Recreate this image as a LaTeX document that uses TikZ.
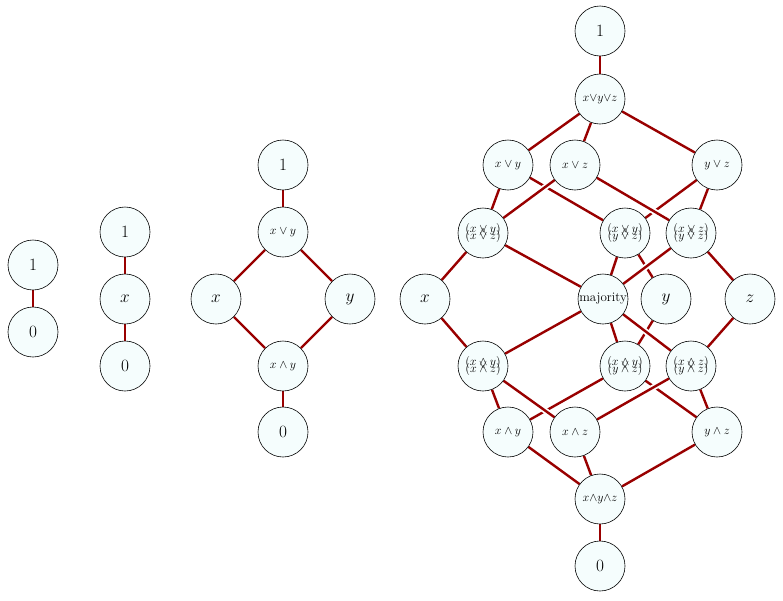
\documentclass[tikz,border=0pt]{standalone}
\usepackage{amsmath}
\usetikzlibrary{backgrounds}
\definecolor{nodefill}{HTML}{F5FDFD}
\definecolor{edgered}{HTML}{990000}
\tikzset{
  v/.style={circle, draw, line width=0.6pt, fill=nodefill, minimum size=50pt, inner sep=0pt, font=\fontsize{17}{20}\selectfont},
  vs/.style={v, font=\fontsize{13}{15}\selectfont},
  vt/.style={v, font=\fontsize{12.5}{13}\selectfont, align=center},
  e/.style={draw=edgered, line width=2.4pt, preaction={draw=white, line width=6pt}}
}
\newcommand{\twol}[3]{$#1$\\[-10pt]$#2$\\[-9pt]$#3$}
\begin{document}
\begin{tikzpicture}[x=1pt,y=-1pt]
  \useasboundingbox (0,0) rectangle (783,600);

  % chain of two
  \node[v] (a1) at (33,265) {$1$};
  \node[v] (a0) at (33,332) {$0$};

  % chain of three
  \node[v] (b1) at (125,232) {$1$};
  \node[v] (bx) at (125,299) {$x$};
  \node[v] (b0) at (125,366) {$0$};

  % two generators
  \node[v]  (c1)  at (283,165) {$1$};
  \node[vs] (cj)  at (283,232) {$x\vee y$};
  \node[v]  (cx)  at (216,299) {$x$};
  \node[v]  (cy)  at (350,299) {$y$};
  \node[vs] (cm)  at (283,366) {$x\wedge y$};
  \node[v]  (c0)  at (283,432) {$0$};

  % three generators
  \node[v]  (d1)   at (600,31)  {$1$};
  \node[vs] (dxyz) at (600,99)  {$x{\vee}y{\vee}z$};
  \node[vs] (dxy)  at (508,165) {$x\vee y$};
  \node[vs] (dxz)  at (575,165) {$x\vee z$};
  \node[vs] (dyz)  at (717,165) {$y\vee z$};
  \node[vt] (ua)   at (483,233) {\twol{(x\vee y)}{\wedge}{(x\vee z)}};
  \node[vt] (ub)   at (625,233) {\twol{(x\vee y)}{\wedge}{(y\vee z)}};
  \node[vt] (uc)   at (691,233) {\twol{(x\vee z)}{\wedge}{(y\vee z)}};
  \node[v]  (dx)   at (425,299) {$x$};
  \node[vs] (dmaj) at (603,299) {majority};
  \node[v]  (dy)   at (666,299) {$y$};
  \node[v]  (dz)   at (750,299) {$z$};
  \node[vt] (la)   at (483,366) {\twol{(x\wedge y)}{\vee}{(x\wedge z)}};
  \node[vt] (lb)   at (625,366) {\twol{(x\wedge y)}{\vee}{(y\wedge z)}};
  \node[vt] (lc)   at (691,366) {\twol{(x\wedge z)}{\vee}{(y\wedge z)}};
  \node[vs] (mxy)  at (508,432) {$x\wedge y$};
  \node[vs] (mxz)  at (575,432) {$x\wedge z$};
  \node[vs] (myz)  at (717,432) {$y\wedge z$};
  \node[vs] (mxyz) at (600,499) {$x{\wedge}y{\wedge}z$};
  \node[v]  (d0)   at (600,566) {$0$};

  \begin{scope}[on background layer]
    \foreach \s/\t in {a1/a0, b1/bx, bx/b0, c1/cj, cj/cx, cj/cy, cx/cm, cy/cm, cm/c0}
      \draw[e] (\s) -- (\t);
    \foreach \s/\t in {d1/dxyz, dxyz/dxy, dxyz/dxz, dxyz/dyz,
                       dxy/ub, dyz/ub, dxy/ua, dxz/ua, dxz/uc, dyz/uc,
                       ub/dy, ub/dmaj, ua/dx, ua/dmaj, uc/dz, uc/dmaj,
                       dy/lb, dmaj/lb, dx/la, dmaj/la, dz/lc, dmaj/lc,
                       lb/mxy, lb/myz, la/mxy, la/mxz, lc/mxz, lc/myz,
                       mxy/mxyz, mxz/mxyz, myz/mxyz, mxyz/d0}
      \draw[e] (\s) -- (\t);
  \end{scope}
\end{tikzpicture}
\end{document}
